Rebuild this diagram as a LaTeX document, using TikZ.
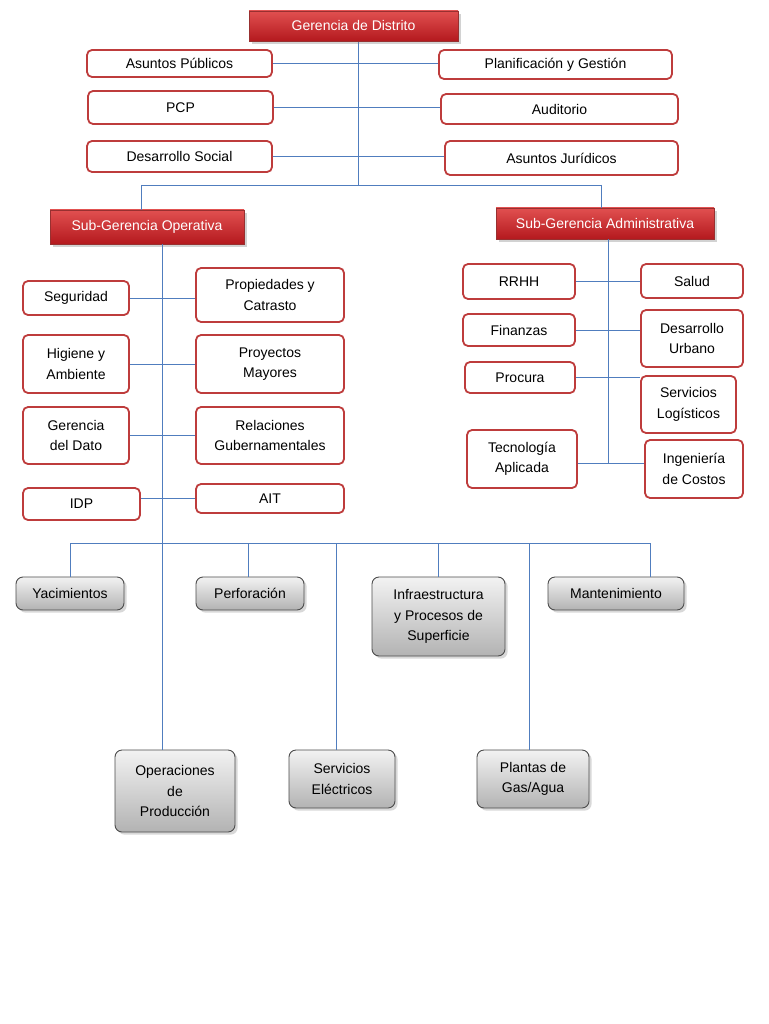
\documentclass[tikz,border=0pt]{standalone}
\usepackage{fontspec}
\setmainfont{Liberation Sans}
\usetikzlibrary{shadows}
\definecolor{lnk}{RGB}{80,125,190}
\definecolor{rb}{RGB}{190,60,60}
\tikzset{
 redbox/.style={draw=rb!80!black,line width=0.6pt,top color={rgb,255:red,225;green,80;blue,80},bottom color={rgb,255:red,180;green,25;blue,30},text=white,drop shadow={opacity=0.35},inner sep=0pt,align=center},
 whbox/.style={draw=rb,line width=1.8pt,fill=white,rounded corners=5pt,inner sep=0pt,align=center},
 grbox/.style={draw=black!70,line width=0.9pt,top color=black!5,bottom color=black!30,rounded corners=7pt,drop shadow={opacity=0.3},inner sep=0pt,align=center},
 lnk/.style={draw=lnk,line width=0.8pt},
}
\newcommand{\bx}[7]{\pgfmathsetmacro\cx{(#2+#4)/2}\pgfmathsetmacro\cy{(#3+#5)/2}\pgfmathsetmacro\ww{#4-#2}\pgfmathsetmacro\hh{#5-#3}
 \node[#6,minimum width=\ww pt,minimum height=\hh pt] (#1) at (\cx,\cy) {#7};}
\begin{document}
\begin{tikzpicture}[x=1pt,y=-1pt,font=\fontsize{14}{20.5}\selectfont]
\useasboundingbox[fill=white] (0,0) rectangle (768,1024);
% top
\coordinate (c1) at (358,185);
\coordinate (c2) at (141,185);
\coordinate (c3) at (601,185);
\draw[lnk] (358,41) -- (c1);
\draw[lnk] (c2) -- (c3);
\bx{gd}{249}{11}{458}{41}{redbox}{Gerencia de Distrito}
\bx{ap}{87}{50}{272}{77}{whbox}{Asuntos Públicos}
\bx{pg}{439}{50}{672}{79}{whbox}{Planificación y Gestión}
\bx{pcp}{88}{91}{273}{124}{whbox}{PCP}
\bx{au}{441}{94}{678}{124}{whbox}{Auditorio}
\bx{ds}{87}{141}{272}{172}{whbox}{Desarrollo Social}
\bx{aj}{445}{141}{678}{175}{whbox}{Asuntos Jurídicos}
\draw[lnk] (ap.east) -- (ap.east -| pg.west);
\draw[lnk] (pcp.east) -- (pcp.east -| au.west);
\draw[lnk] (ds.east) -- (ds.east -| aj.west);
\bx{so}{50}{210}{244}{244}{redbox}{Sub-Gerencia Operativa}
\bx{sa}{496}{208}{714}{239}{redbox}{Sub-Gerencia Administrativa}
\draw[lnk] (c2) -- (c2 |- so.north);
\draw[lnk] (c3) -- (c3 |- sa.north);
% left column
\coordinate (sv) at (162,244);
\coordinate (hb) at (162,543);
\bx{op}{115}{750}{235}{832}{grbox}{Operaciones\\de\\Producción}
\draw[lnk] (sv) -- (sv |- op.north);
\bx{seg}{23}{281}{129}{315}{whbox}{Seguridad}
\bx{pc}{196}{268}{344}{322}{whbox}{Propiedades y\\Catrasto}
\bx{hig}{23}{335}{129}{393}{whbox}{Higiene y\\Ambiente}
\bx{pm}{196}{335}{344}{393}{whbox}{Proyectos\\Mayores}
\bx{gdd}{23}{407}{129}{464}{whbox}{Gerencia\\del Dato}
\bx{rg}{196}{407}{344}{464}{whbox}{Relaciones\\Gubernamentales}
\bx{idp}{23}{488}{140}{520}{whbox}{IDP}
\bx{ait}{196}{484}{344}{513}{whbox}{AIT}
\draw[lnk] (seg.east) -- (seg.east -| pc.west);
\draw[lnk] (hig.east) -- (hig.east -| pm.west);
\draw[lnk] (gdd.east) -- (gdd.east -| rg.west);
\draw[lnk] (ait.west) -- (ait.west -| idp.east);
% right column
\coordinate (av) at (608,239);
\coordinate (ab) at (608,463);
\draw[lnk] (av) -- (ab);
\bx{rr}{463}{264}{575}{299}{whbox}{RRHH}
\bx{sal}{641}{264}{743}{298}{whbox}{Salud}
\bx{fin}{463}{314}{575}{346}{whbox}{Finanzas}
\bx{du}{641}{310}{743}{367}{whbox}{Desarrollo\\Urbano}
\bx{pro}{465}{362}{575}{393}{whbox}{Procura}
\bx{sl}{641}{376}{736}{433}{whbox}{Servicios\\Logísticos}
\bx{ta}{467}{430}{577}{488}{whbox}{Tecnología\\Aplicada}
\bx{ic}{645}{440}{743}{498}{whbox}{Ingeniería\\de Costos}
\draw[lnk] (rr.east) -- (rr.east -| sal.west);
\draw[lnk] (fin.east) -- (fin.east -| du.west);
\draw[lnk] (pro.east) -- (pro.east -| sl.west);
\draw[lnk] (ta.east |- ab) -- (ab -| ic.west);
% bottom
\bx{ya}{16}{577}{124}{610}{grbox}{Yacimientos}
\bx{pe}{196}{577}{304}{610}{grbox}{Perforación}
\bx{inf}{372}{577}{505}{656}{grbox}{Infraestructura\\y Procesos de\\Superficie}
\bx{ma}{548}{577}{684}{610}{grbox}{Mantenimiento}
\bx{se}{289}{750}{395}{808}{grbox}{Servicios\\Eléctricos}
\bx{pl}{477}{750}{589}{808}{grbox}{Plantas de\\Gas/Agua}
\coordinate (b1) at (70,543);
\coordinate (b2) at (248,543);
\coordinate (b3) at (336,543);
\coordinate (b4) at (438,543);
\coordinate (b5) at (529,543);
\coordinate (b6) at (650,543);
\draw[lnk] (b1) -- (b6);
\draw[lnk] (b1) -- (b1 |- ya.north);
\draw[lnk] (b2) -- (b2 |- pe.north);
\draw[lnk] (b3) -- (b3 |- se.north);
\draw[lnk] (b4) -- (b4 |- inf.north);
\draw[lnk] (b5) -- (b5 |- pl.north);
\draw[lnk] (b6) -- (b6 |- ma.north);
\end{tikzpicture}
\end{document}
